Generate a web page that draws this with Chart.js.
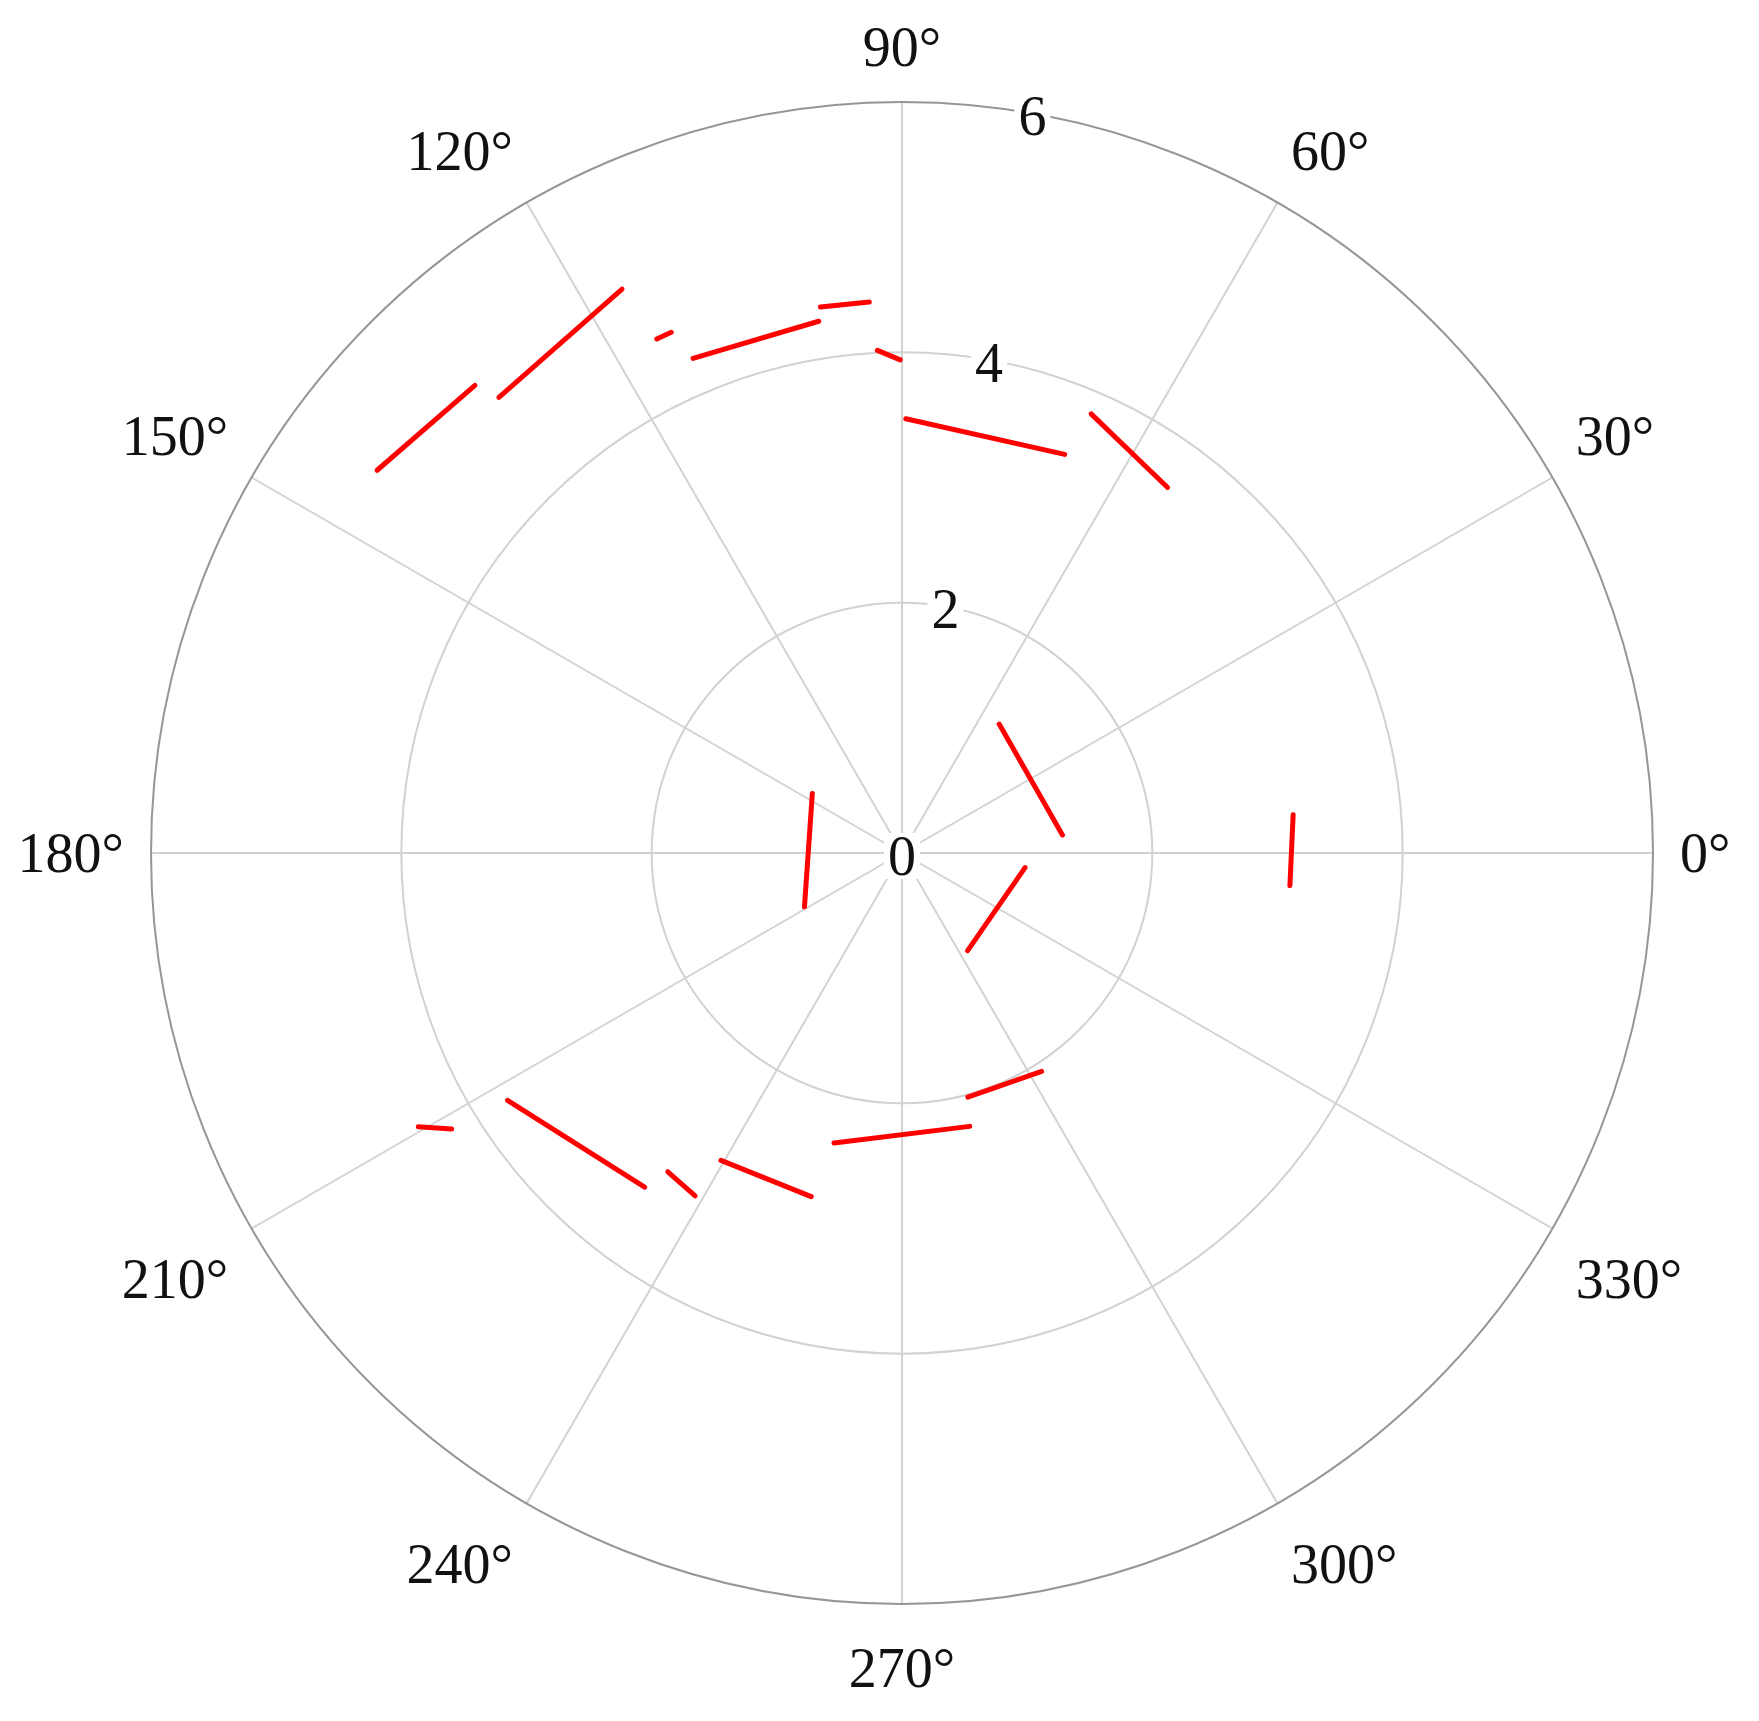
<!DOCTYPE html>
<html>
<head>
<meta charset="utf-8">
<script src="https://cdn.jsdelivr.net/npm/chart.js@4.4.0/dist/chart.umd.min.js"></script>
<style>
body { margin: 0; background: #fff; }
</style>
</head>
<body>
<canvas id="chart" width="1759" height="1721"></canvas>
<script>
// each red stroke goes from (startR, startDeg) to (endR, endDeg)
var startR   = [5.19, 4.86, 4.55, 4.29, 4.41, 4.02, 3.47, 3.82, 1.29, 0.99, 3.14, 0.86, 2.02, 2.38, 2.85, 3.16, 3.72, 4.44];
var startDeg = [143.9, 131.5, 115.5, 112.9, 98.5, 92.8, 89.5, 66.7, 53.0, 353.2, 5.6, 146.4, 285.1, 256.8, 239.5, 233.7, 212.1, 209.5];
var endR     = [5.06, 5.03, 4.55, 4.30, 4.41, 3.94, 3.44, 3.61, 1.29, 0.94, 3.11, 0.89, 2.07, 2.25, 2.84, 3.20, 3.37, 4.22];
var endDeg   = [132.4, 116.4, 113.9, 98.9, 93.4, 90.2, 67.8, 54.0, 6.4, 303.9, 355.2, 208.9, 302.6, 283.9, 255.2, 238.9, 232.4, 211.5];

var ringValues = [2, 4, 6];
var ringLabels = ["2", "4", "6"];
var spokeDegs = [0, 30, 60, 90, 120, 150, 180, 210, 240, 270, 300, 330];
var angleLabels = ["0°", "30°", "60°", "90°", "120°", "150°", "180°", "210°", "240°", "270°", "300°", "330°"];
var rMax = 6;
var ringLabelDeg = 80;

function toXY(r, deg) {
    var a = deg * Math.PI / 180;
    return { x: r * Math.cos(a), y: r * Math.sin(a) };
}

var datasets = [];
for (var i = 0; i < startR.length; i++) {
    datasets.push({
        data: [toXY(startR[i], startDeg[i]), toXY(endR[i], endDeg[i])],
        showLine: true,
        borderColor: '#ff0000',
        borderWidth: 5,
        borderCapStyle: 'round',
        pointRadius: 0
    });
}

var FONT = '56px "Liberation Serif", "Times New Roman", serif';

var polarGrid = {
    id: 'polarGrid',
    beforeDatasetsDraw: function (chart) {
        var ctx = chart.ctx;
        var xs = chart.scales.x, ys = chart.scales.y;
        var cx = xs.getPixelForValue(0), cy = ys.getPixelForValue(0);
        var unit = xs.getPixelForValue(1) - cx;
        ctx.save();
        // spokes
        ctx.strokeStyle = '#d2d2d2';
        ctx.lineWidth = 2;
        spokeDegs.forEach(function (d) {
            var a = d * Math.PI / 180;
            ctx.beginPath();
            ctx.moveTo(cx, cy);
            ctx.lineTo(cx + rMax * unit * Math.cos(a), cy - rMax * unit * Math.sin(a));
            ctx.stroke();
        });
        // rings
        ringValues.forEach(function (v) {
            ctx.strokeStyle = v === rMax ? '#969696' : '#d2d2d2';
            ctx.beginPath();
            ctx.arc(cx, cy, v * unit, 0, Math.PI * 2);
            ctx.stroke();
        });
        ctx.font = FONT;
        ctx.fillStyle = '#111';
        ctx.textAlign = 'center';
        ctx.textBaseline = 'alphabetic';
        // radial labels with white box
        var la = ringLabelDeg * Math.PI / 180;
        var pts = [{ t: "0", x: cx, y: cy }];
        ringValues.forEach(function (v, k) {
            pts.push({ t: ringLabels[k], x: cx + v * unit * Math.cos(la), y: cy - v * unit * Math.sin(la) });
        });
        pts.forEach(function (p) {
            var w = ctx.measureText(p.t).width;
            ctx.fillStyle = '#fff';
            ctx.fillRect(p.x - w / 2 - 4, p.y - 20, w + 8, 46);
            ctx.fillStyle = '#111';
            ctx.fillText(p.t, p.x, p.y + 22);
        });
        // angle labels: box corner nearest the centre sits on a circle
        var rl = rMax * unit + 27;
        spokeDegs.forEach(function (d, k) {
            var a = d * Math.PI / 180;
            var c = Math.cos(a), s = Math.sin(a);
            var w = ctx.measureText(angleLabels[k]).width;
            var sx = Math.abs(c) < 0.01 ? 0 : (c > 0 ? 1 : -1);
            var sy = Math.abs(s) < 0.01 ? 0 : (s > 0 ? 1 : -1);
            var hh = sy > 0 ? 28 : 37;
            var px = cx + rl * c + sx * w / 2;
            var py = cy - rl * s - sy * hh;
            ctx.fillText(angleLabels[k], px, py + 19);
        });
        ctx.restore();
    }
};

new Chart(document.getElementById('chart'), {
    type: 'scatter',
    data: { datasets: datasets },
    options: {
        responsive: false,
        animation: false,
        layout: { padding: { left: 151, right: 106, top: 102, bottom: 117 } },
        scales: {
            x: { type: 'linear', min: -rMax, max: rMax, display: false },
            y: { type: 'linear', min: -rMax, max: rMax, display: false }
        },
        plugins: { legend: { display: false }, tooltip: { enabled: false } }
    },
    plugins: [polarGrid]
});
</script>
</body>
</html>
